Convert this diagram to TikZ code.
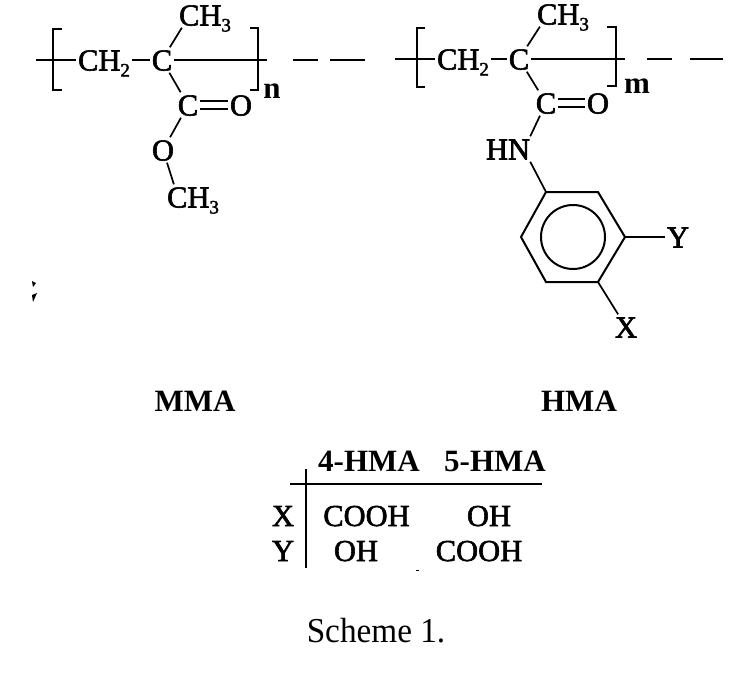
\documentclass[tikz,border=0pt]{standalone}
\usepackage{fontspec}
\usepackage{tikz}
\setmainfont{Liberation Serif}
\newfontfamily\chemfont{Liberation Serif}[FakeBold=2]
\usetikzlibrary{calc}
\newcommand{\subnum}[1]{\raisebox{-6pt}{\fontsize{19}{19}\selectfont #1}}

\begin{document}
\begin{tikzpicture}[
            x=1pt, y=-1pt,
            atom/.style={inner sep=2pt, font=\chemfont\fontsize{30.5}{32}\selectfont, text height=21pt, text depth=0pt},
            boldlabel/.style={inner sep=2pt, font=\bfseries\fontsize{31}{33}\selectfont, text height=21pt, text depth=0pt},
            bond/.style={draw=black, line width=1.7pt},
            rule/.style={draw=black, line width=2pt}
        ]
            \useasboundingbox (0,0) rectangle (744,675);

% Left unit
            \node[atom] (ch2a) at (104,60) {CH\subnum{2}};
            \node[atom] (ca) at (162,60) {C};
            \node[atom] (cha) at (205,15) {CH\subnum{3}};
            \node[atom] (coa) at (188,105) {C};
            \node[atom] (oxa) at (241,105) {O};
            \node[atom] (oea) at (163,150) {O};
            \node[atom] (mea) at (193,197) {CH\subnum{3}};
            \node[boldlabel] (na) at (272,88) {n};
            \coordinate (starta) at (36,60);
            \coordinate (enda) at (267,60);
            \coordinate (dasha) at (293,60);
            \coordinate (dashb) at (318,60);
            \coordinate (dashc) at (330,60);
            \coordinate (dashd) at (365,60);

% Right unit
            \node[atom] (ch2b) at (463,59) {CH\subnum{2}};
            \node[atom] (cb) at (519,59) {C};
            \node[atom] (chb) at (563,14) {CH\subnum{3}};
            \node[atom] (cob) at (546,103) {C};
            \node[atom] (oxb) at (598,103) {O};
            \node[atom] (hn) at (508,149) {HN};
            \node[boldlabel] (mb) at (637,83) {m};
            \node[atom] (ysub) at (678,237) {Y};
            \node[atom] (xsub) at (626,327) {X};
            \coordinate (startb) at (395,59);
            \coordinate (endb) at (625,59);
            \coordinate (dashe) at (647,59);
            \coordinate (dashf) at (672,59);
            \coordinate (dashg) at (690,59);
            \coordinate (dashh) at (723,59);

% Ring
            \coordinate (ra) at (546,192);
            \coordinate (rb) at (598,192);
            \coordinate (rc) at (625,237);
            \coordinate (rd) at (598,282);
            \coordinate (re) at (546,282);
            \coordinate (rf) at (521,237);
            \draw[rule] (ra) -- (rb) -- (rc) -- (rd) -- (re) -- (rf) -- cycle;
            \draw[rule] (573,237) circle (32);

% Brackets
            \draw[bond] (62,29) -- (53,29) -- (53,90) -- (62,90);
            \draw[bond] (250,28) -- (258,28) -- (258,90) -- (250,90);
            \draw[bond] (425,28) -- (417,28) -- (417,87) -- (425,87);
            \draw[bond] (607,27) -- (616,27) -- (616,86) -- (607,86);

% Bonds
            \draw[bond] (starta) -- (ch2a);
            \draw[bond] (ch2a) -- (ca);
            \draw[bond] (ca) -- (enda);
            \draw[bond] (ca) -- ($(cha.south west)+(5,0)$);
            \draw[bond] (ca) -- (coa);
            \draw[bond] ($(coa.east)+(0,-4)$) -- ($(oxa.west)+(0,-4)$);
            \draw[bond] ($(coa.east)+(0,4)$) -- ($(oxa.west)+(0,4)$);
            \draw[bond] (coa) -- (oea);
            \draw[bond] (oea) -- ($(mea.north west)+(9,0)$);
            \draw[bond] (dasha) -- (dashb);
            \draw[bond] (dashc) -- (dashd);

            \draw[bond] (startb) -- (ch2b);
            \draw[bond] (ch2b) -- (cb);
            \draw[bond] (cb) -- (endb);
            \draw[bond] (cb) -- ($(chb.south west)+(5,0)$);
            \draw[bond] (cb) -- (cob);
            \draw[bond] ($(cob.east)+(0,-4)$) -- ($(oxb.west)+(0,-4)$);
            \draw[bond] ($(cob.east)+(0,4)$) -- ($(oxb.west)+(0,4)$);
            \draw[bond] (cob) -- ($(hn.north east)+(-2,0)$);
            \draw[bond] ($(hn.south east)+(-2,0)$) -- (ra);
            \draw[bond] (rc) -- (ysub);
            \draw[bond] (rd) -- (xsub);
            \draw[bond] (dashe) -- (dashf);
            \draw[bond] (dashg) -- (dashh);

% Names
            \node[boldlabel] (mma) at (195,401) {MMA};
            \node[boldlabel] (hma) at (579,401) {HMA};

% Table
            \node[boldlabel] (hfour) at (369,461) {4-HMA};
            \node[boldlabel] (hfive) at (495,461) {5-HMA};
            \node[atom] (rowx) at (283,515.5) {X};
            \node[atom] (rowy) at (283,550.5) {Y};
            \node[atom] (xfour) at (366.5,515.5) {COOH};
            \node[atom] (xfive) at (489,515.5) {OH};
            \node[atom] (yfour) at (356,550.5) {OH};
            \node[atom] (yfive) at (479,550.5) {COOH};
            \coordinate (hleft) at (290,484);
            \coordinate (hright) at (542,484);
            \coordinate (vtop) at (306,469);
            \coordinate (vbot) at (306,568);
            \draw[bond] (hleft) -- (hright);
            \draw[bond] (vtop) -- (vbot);

% Specks
            \fill (32,281) -- (36,283) -- (33,287) -- cycle;
            \fill (32,295) -- (37,293) -- (33,302) -- cycle;
            \fill (416,569.5) rectangle (419,571);

% Caption
            \node[inner sep=0pt, xscale=0.95, font=\fontsize{35}{37}\selectfont] (caption) at (376,631) {Scheme 1.};

        \end{tikzpicture}
\end{document}
